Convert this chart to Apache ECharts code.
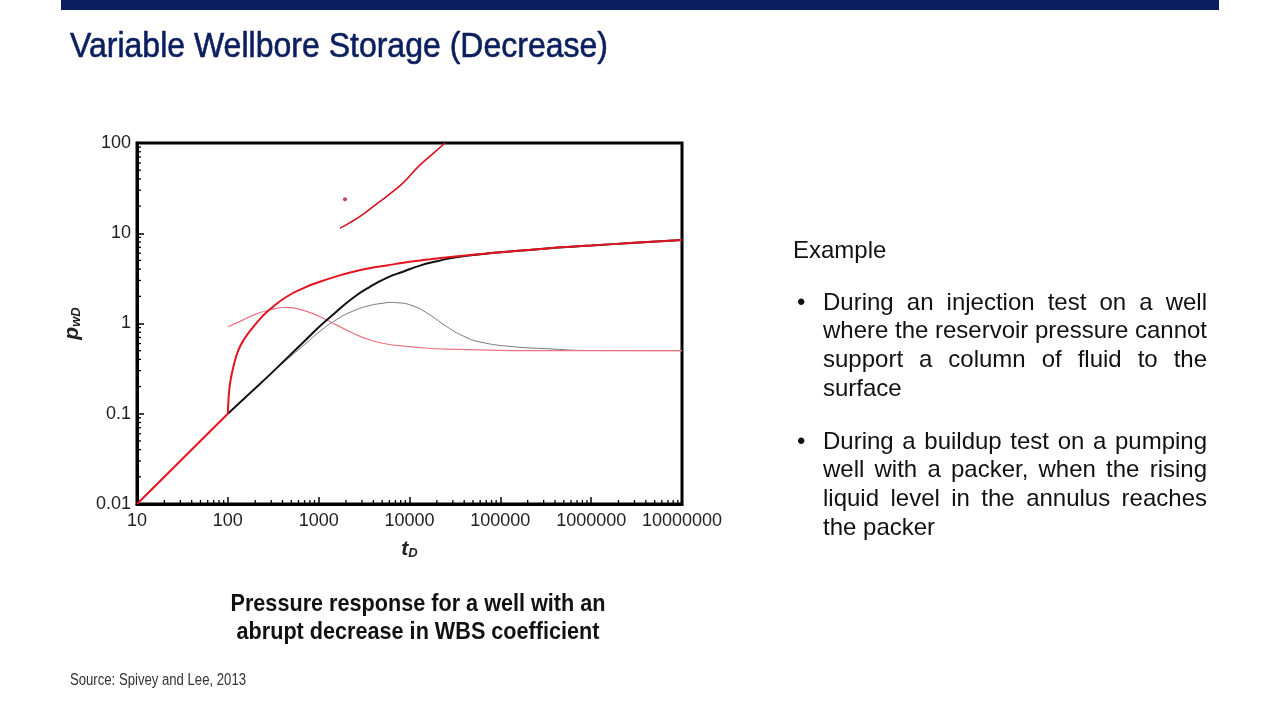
<!DOCTYPE html>
<html><head><meta charset="utf-8">
<script src="https://cdn.jsdelivr.net/npm/echarts@6.0.0/dist/echarts.min.js"></script>
<style>html,body{margin:0;padding:0;background:#fff}#c{width:1280px;height:720px}</style>
</head><body><div id="c"></div>
<script>
// ---------- data ----------
const xTickLabels = ['10','100','1000','10000','100000','1000000','10000000'];
const yTickLabels = ['0.01','0.1','1','10','100'];

// red thick: pwD, abrupt decrease in WBS coefficient
const redEarly = [[10,0.01],[100,0.1]];
const redLate = [[100,0.1],[102,0.15],[106,0.22],[115,0.33],[130,0.5],[150,0.66],[191,0.92],[240,1.2],[291,1.44],[444,1.98],[700,2.5],[1035,2.9],[1600,3.35],[2400,3.75],[3600,4.1],[5610,4.4],[8500,4.7],[13060,5.0],[20000,5.25],[36000,5.6],[100000,6.15],[300000,6.75],[1000000,7.3],[3000000,7.85],[10000000,8.4]];
// black thick: pwD, constant WBS
const blackP = [[100,0.1],[191,0.183],[300,0.28],[444,0.411],[700,0.64],[1035,0.937],[1500,1.3],[2400,1.93],[3600,2.52],[5610,3.2],[8500,3.75],[13060,4.38],[20000,4.89],[30000,5.35],[45000,5.65],[70000,5.94],[100000,6.15],[300000,6.75],[1000000,7.3],[3000000,7.85],[10000000,8.4]];
// pink thin: derivative of red
const pinkD = [[100,0.92],[140,1.07],[191,1.24],[291,1.42],[444,1.51],[677,1.40],[1035,1.19],[1580,0.96],[2400,0.78],[3670,0.656],[5610,0.593],[9000,0.56],[13060,0.54],[25000,0.52],[60000,0.51],[200000,0.5],[10000000,0.5]];
// gray thin: derivative of black
const grayD = [[100,0.1],[191,0.183],[300,0.28],[444,0.395],[700,0.585],[1035,0.82],[1580,1.107],[2400,1.377],[3600,1.578],[5150,1.68],[6200,1.71],[7230,1.70],[11000,1.563],[16830,1.242],[25700,0.923],[39100,0.726],[59700,0.624],[139000,0.553],[324000,0.526],[970000,0.502],[10000000,0.5]];
// upper red stroke and dot
const upperRed = [[1720,11.4],[2215,13.1],[3100,16.3],[4300,20.9],[5850,26.5],[8500,36.2],[12500,54.7],[17500,74],[24600,100]];
const dotPt = [[1950,23.8]];

// minor tick values (2..9 within each decade)
const minorX = [];
for (let e = 1; e < 7; e++) for (let k = 2; k < 10; k++) minorX.push(k * Math.pow(10, e));
const minorY = [];
for (let e = -2; e < 2; e++) for (let k = 2; k < 10; k++) minorY.push(+(k * Math.pow(10, e)).toPrecision(3));

// texts
const titleText = 'Variable Wellbore Storage (Decrease)';
const captionLines = ['Pressure response for a well with an', 'abrupt decrease in WBS coefficient'];
const sourceText = 'Source: Spivey and Lee, 2013';
const exampleText = 'Example';
const bullet1 = ['During an injection test on a well', 'where the reservoir pressure cannot', 'support a column of fluid to the', 'surface'];
const bullet2 = ['During a buildup test on a pumping', 'well with a packer, when the rising', 'liquid level in the annulus reaches', 'the packer'];

// ---------- layout ----------
const X_MIN = 10, X_MAX = 1e7, Y_MIN = 0.01, Y_MAX = 100;
const sans = '"Liberation Sans", Arial, sans-serif';
const bodyFont = '24px ' + sans;
const titleFont = '35px ' + sans;
const captionFont = 'bold 24px ' + sans;
const sourceFont = '16px ' + sans;
const ctx = document.createElement('canvas').getContext('2d');
function measure(font, s) { ctx.font = font; return ctx.measureText(s).width; }

// narrow-font emulation: horizontal squeeze to the reference widths
const titleScale = 538 / measure(titleFont, titleText);
const captionScale = 375 / measure(captionFont, captionLines[0]);
const sourceScale = 176 / measure(sourceFont, sourceText);

function txt(x, y, text, font, fill, align, extra) {
  return Object.assign({ type: 'text', x: x, y: y, silent: true,
    style: { text: text, font: font, fill: fill, align: align, verticalAlign: 'middle', textAlign: align, textVerticalAlign: 'middle' } }, extra || {});
}
function lineWords(line, x0, x1, y, justify) {
  const words = line.split(' ');
  const ws = words.map(w => measure(bodyFont, w));
  const total = ws.reduce((a, b) => a + b, 0);
  const gap = (justify && words.length > 1) ? (x1 - x0 - total) / (words.length - 1) : measure(bodyFont, ' ');
  let x = x0;
  const out = [];
  words.forEach((w, i) => { out.push(txt(x, y, w, bodyFont, '#111', 'left')); x += ws[i] + gap; });
  return out;
}
function paragraph(lines, y0, lh) {
  let els = [txt(797, y0, '•', bodyFont, '#111', 'left')];
  lines.forEach((l, i) => { els = els.concat(lineWords(l, 823, 1207, y0 + i * lh, i < lines.length - 1)); });
  return els;
}

const titleEl = txt(70, 47, titleText, titleFont, '#0b1f5e', 'left', { scaleX: titleScale });
titleEl.style.stroke = '#0b1f5e'; titleEl.style.lineWidth = 0.6;

const graphics = [
  { type: 'rect', shape: { x: 61, y: 0, width: 1158, height: 10 }, style: { fill: '#0b1f5e' }, silent: true },
  titleEl,
  txt(418, 604, captionLines[0], captionFont, '#111', 'center', { scaleX: captionScale }),
  txt(418, 632, captionLines[1], captionFont, '#111', 'center', { scaleX: captionScale }),
  txt(70, 681, sourceText, sourceFont, '#333', 'left', { scaleX: sourceScale }),
  txt(793, 251, exampleText, bodyFont, '#111', 'left')
].concat(paragraph(bullet1, 303, 28.7)).concat(paragraph(bullet2, 442, 28.7));

function tickSeries(values, isX) {
  return {
    type: 'custom', coordinateSystem: 'cartesian2d', silent: true, clip: false, z: 5,
    data: values.map(v => isX ? [v, Y_MIN] : [X_MIN, v]),
    renderItem: (params, api) => {
      const p = api.coord([api.value(0), api.value(1)]);
      return { type: 'line',
        shape: isX ? { x1: p[0], y1: p[1], x2: p[0], y2: p[1] - 4 } : { x1: p[0], y1: p[1], x2: p[0] + 4, y2: p[1] },
        style: { stroke: '#000', lineWidth: 1.3 } };
    }
  };
}

const lineBase = { type: 'line', showSymbol: false, symbol: 'none', silent: true, animation: false, smooth: 0.5 };
const nameRich = {
  t: { fontFamily: 'Liberation Sans', fontStyle: 'italic', fontWeight: 'bold', fontSize: 21, color: '#222' },
  s: { fontFamily: 'Liberation Sans', fontStyle: 'italic', fontWeight: 'bold', fontSize: 13, color: '#222', verticalAlign: 'bottom', padding: [8, 0, 0, 0] }
};

const option = {
  animation: false,
  backgroundColor: '#fff',
  graphic: graphics,
  grid: { left: 137, top: 143, right: 598, bottom: 216, show: true, borderColor: '#000', borderWidth: 3, containLabel: false },
  xAxis: {
    type: 'log', logBase: 10, min: X_MIN, max: X_MAX,
    name: '{t|t}{s|D}', nameLocation: 'middle', nameGap: 35, nameMoveOverlap: false,
    nameTextStyle: { rich: nameRich },
    axisLine: { show: true, lineStyle: { color: '#000', width: 3 } },
    axisTick: { show: true, inside: true, length: 7, lineStyle: { color: '#000', width: 1.5 } },
    splitLine: { show: false },
    axisLabel: { margin: 8, fontFamily: 'Liberation Sans', fontSize: 18, color: '#222',
      formatter: v => xTickLabels[Math.round(Math.log10(v)) - 1] }
  },
  yAxis: {
    type: 'log', logBase: 10, min: Y_MIN, max: Y_MAX,
    name: '{t|p}{s|wD}', nameLocation: 'middle', nameGap: 54, nameRotate: 90, nameMoveOverlap: false,
    nameTextStyle: { rich: nameRich },
    axisLine: { show: true, lineStyle: { color: '#000', width: 3 } },
    axisTick: { show: true, inside: true, length: 7, lineStyle: { color: '#000', width: 1.5 } },
    splitLine: { show: false },
    axisLabel: { margin: 6, fontFamily: 'Liberation Sans', fontSize: 18, color: '#222',
      formatter: v => yTickLabels[Math.round(Math.log10(v)) + 2] }
  },
  series: [
    tickSeries(minorX, true),
    tickSeries(minorY, false),
    Object.assign({}, lineBase, { name: 'derivative (constant WBS)', data: grayD, lineStyle: { color: '#777', width: 1 }, z: 2 }),
    Object.assign({}, lineBase, { name: 'derivative (decreasing WBS)', data: pinkD, lineStyle: { color: '#ea7480', width: 1.2 }, z: 2 }),
    Object.assign({}, lineBase, { name: 'pressure (constant WBS)', data: blackP, lineStyle: { color: '#111', width: 2 }, z: 3 }),
    Object.assign({}, lineBase, { name: 'pressure early', data: redEarly, smooth: false, lineStyle: { color: '#e3141f', width: 2 }, z: 4 }),
    Object.assign({}, lineBase, { name: 'pressure (decreasing WBS)', data: redLate, lineStyle: { color: '#e3141f', width: 2 }, z: 4 }),
    Object.assign({}, lineBase, { name: 'upper stroke', data: upperRed, lineStyle: { color: '#d8101f', width: 1.6 }, z: 4 }),
    { type: 'scatter', data: dotPt, symbol: 'circle', symbolSize: 4, itemStyle: { color: '#b0104a' }, silent: true, z: 4 }
  ]
};
const chart = echarts.init(document.getElementById('c'));
chart.setOption(option);
</script></body></html>
